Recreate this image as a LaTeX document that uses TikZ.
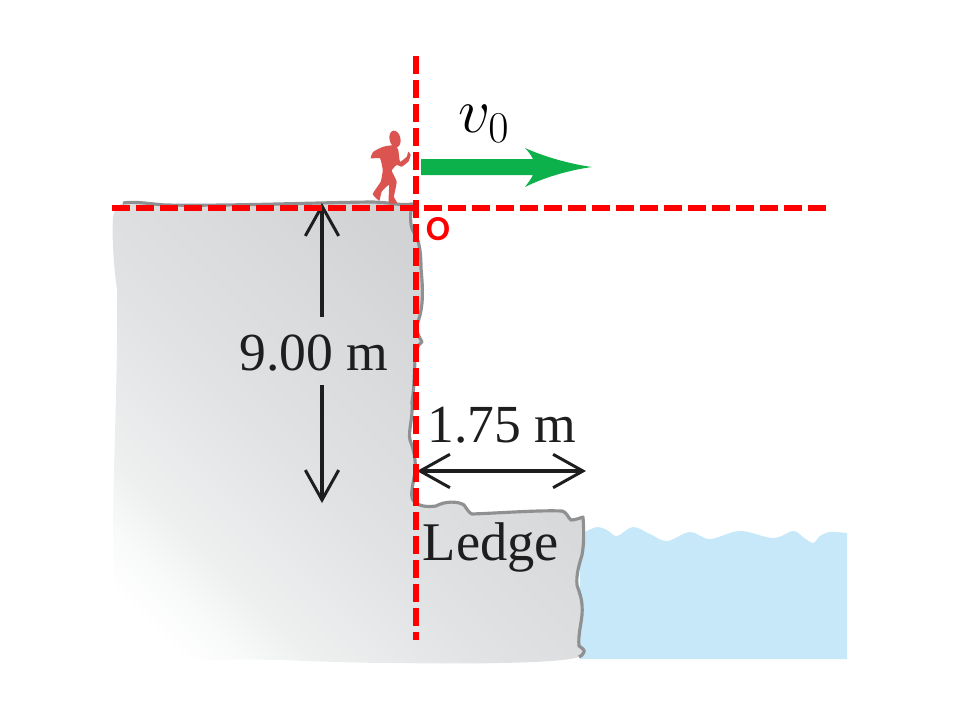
\documentclass[tikz,border=0pt]{standalone}
\usepackage{graphicx}
\usepackage{fontspec}
\setmainfont{Liberation Serif}
\newfontfamily\labelfont{Carlito}
\usetikzlibrary{arrows.meta}
\definecolor{rockA}{HTML}{F8F9F9}
\definecolor{rockB}{HTML}{EEEFEF}
\definecolor{rockC}{HTML}{E0E1E3}
\definecolor{rockD}{HTML}{DADBDD}
\definecolor{rockE}{HTML}{D2D3D5}
\definecolor{rockF}{HTML}{CFD0D2}
\definecolor{rockline}{HTML}{8F9092}
\definecolor{waterblue}{HTML}{C6E8F9}
\definecolor{axisred}{HTML}{FF0000}
\definecolor{speedgreen}{HTML}{0DB14B}
\definecolor{runnerred}{HTML}{DB5450}
\definecolor{inkblack}{HTML}{1E1E1E}
\pgfdeclareverticalshading{rockfade}{100bp}{color(0bp)=(white); color(20bp)=(white); color(25bp)=(rockA); color(30bp)=(rockB); color(45bp)=(rockC); color(56bp)=(rockD); color(68bp)=(rockE); color(85bp)=(rockF); color(100bp)=(rockF)}
% outline of the cliff and the ledge, shared by fill and edge
\def\cliffedge{(123,203) .. controls (135,201) and (150,204) .. (165,205)
    .. controls (230,206) and (300,203) .. (370,202)
    .. controls (390,202) and (400,206) .. (412,204)
    .. controls (410,215) and (410,225) .. (413,231)
    .. controls (420,240) and (421,255) .. (421,268)
    .. controls (423,290) and (424,310) .. (416,326)
    .. controls (416,332) and (420,338) .. (422,342)
    .. controls (418,345) and (414,350) .. (415,360)
    .. controls (414,380) and (414,390) .. (412,402)
    .. controls (413,420) and (408,430) .. (410,440)
    .. controls (414,450) and (416,460) .. (415,472)
    .. controls (413,485) and (410,495) .. (413,500)
    .. controls (418,507) and (428,507) .. (436,506)
    .. controls (445,501) and (458,501) .. (464,505)
    .. controls (467,509) and (469,513) .. (472,514)
    .. controls (500,513) and (540,510) .. (562,511)
    .. controls (567,512) and (568,518) .. (571,520)
    .. controls (575,520) and (580,518) .. (583,517)
    .. controls (584,530) and (584,545) .. (582,555)
    .. controls (579,565) and (576,575) .. (577,585)
    .. controls (580,595) and (583,600) .. (582,615)
    .. controls (581,625) and (578,635) .. (579,646)
    .. controls (582,648) and (585,650) .. (584,652)
    .. controls (583,655) and (581,656) .. (579,657)}
\begin{document}
\begin{tikzpicture}[
    x=0.02cm, y=-0.02cm,
    >={Straight Barb[length=17pt,width=19pt,line width=1.7pt]},
    axisline/.style={axisred, line width=6*0.02cm, dash pattern=on 18*0.02cm off 6*0.02cm},
    dimline/.style={<->, inkblack, line width=2pt},
    dimhalf/.style={->, inkblack, line width=2pt},
    dimtext/.style={inkblack, font=\fontsize{30.5}{34}\selectfont, inner sep=0pt}
]
    \useasboundingbox (0,0) rectangle (960,720);

    % === WATER ===
    \fill[waterblue] (580,659) -- (580,534) -- plot[smooth, tension=0.6] coordinates {(585,532) (597,527) (607,530) (617,536) (633,527) (650,534) (667,541) (690,532) (710,539) (740,531) (773,538) (793,531) (803,537) (813,543) (820,536) (830,532) (847,533)} -- (847,659) -- cycle;

    % === CLIFF ===
    \shade[shading=rockfade, shading angle=-45]
        \cliffedge .. controls (560,664) and (450,664) .. (400,663)
        .. controls (320,663) and (270,658) .. (220,660)
        .. controls (170,662) and (130,640) .. (114,610)
        -- (113,513) .. controls (115,420) and (118,350) .. (117,290)
        .. controls (113,260) and (112,235) .. (113,217)
        .. controls (114,210) and (118,205) .. (123,203) -- cycle;
    \draw[rockline, line width=1.8pt, line join=round] \cliffedge;

    % === RUNNER ===
    \fill[runnerred, rotate around={12:(395,139)}] (395,139) ellipse (5.5 and 8.5);
    \fill[runnerred] plot[smooth cycle, tension=0.25] coordinates {(383.3,146.7) (395,145) (398.3,150) (400,161.7) (406.7,156.7) (408.3,151.7) (410.7,155) (408.3,161.7) (401.7,166.7) (396.7,165) (391.7,170.7) (396.7,181.7) (394,196.7) (397.3,203.3) (388.7,202.7) (389,185) (381.7,191.7) (379.3,200.7) (372.7,194) (380.7,181.7) (382.7,170) (380,158.3) (370.7,158.3) (373.3,151.7)};

    % === SPEED ARROW ===
    \fill[speedgreen] (421,159) -- (533,159) .. controls (531,155) and (528,151) .. (525,148)
        .. controls (545,157) and (570,164) .. (592,167)
        .. controls (570,170) and (545,177) .. (525,187)
        .. controls (528,183) and (531,179) .. (533,175) -- (421,175) -- cycle;
    \node[inner sep=0pt] (speed) at (484,124) {\scalebox{1.45}{\fontsize{24}{28}\selectfont$v_0$}};

    % === DIMENSIONS ===
    \node[dimtext] (height) at (314,353) {9.00 m};
    \coordinate (heighttop) at (322,203);
    \coordinate (heightup) at (322,317);
    \coordinate (heightdown) at (322,385);
    \coordinate (heightbottom) at (322,503);
    \draw[dimhalf] (heightup) -- (heighttop);
    \draw[dimhalf] (heightdown) -- (heightbottom);

    \node[dimtext] (gap) at (502,425) {1.75 m};
    \coordinate (gapleft) at (417,471);
    \coordinate (gapright) at (586,471);
    \draw[dimline] (gapleft) -- (gapright);

    \node[dimtext, font=\fontsize{31}{34}\selectfont] (ledge) at (491,547) {Ledge};

    % === AXES ===
    \draw[axisline] (112,208) -- (826,208);
    \draw[axisline] (416,56) -- (416,640);
    \node[axisred, inner sep=0pt, font=\labelfont\bfseries\fontsize{20}{22}\selectfont] (origin) at (438,229) {O};
\end{tikzpicture}
\end{document}
